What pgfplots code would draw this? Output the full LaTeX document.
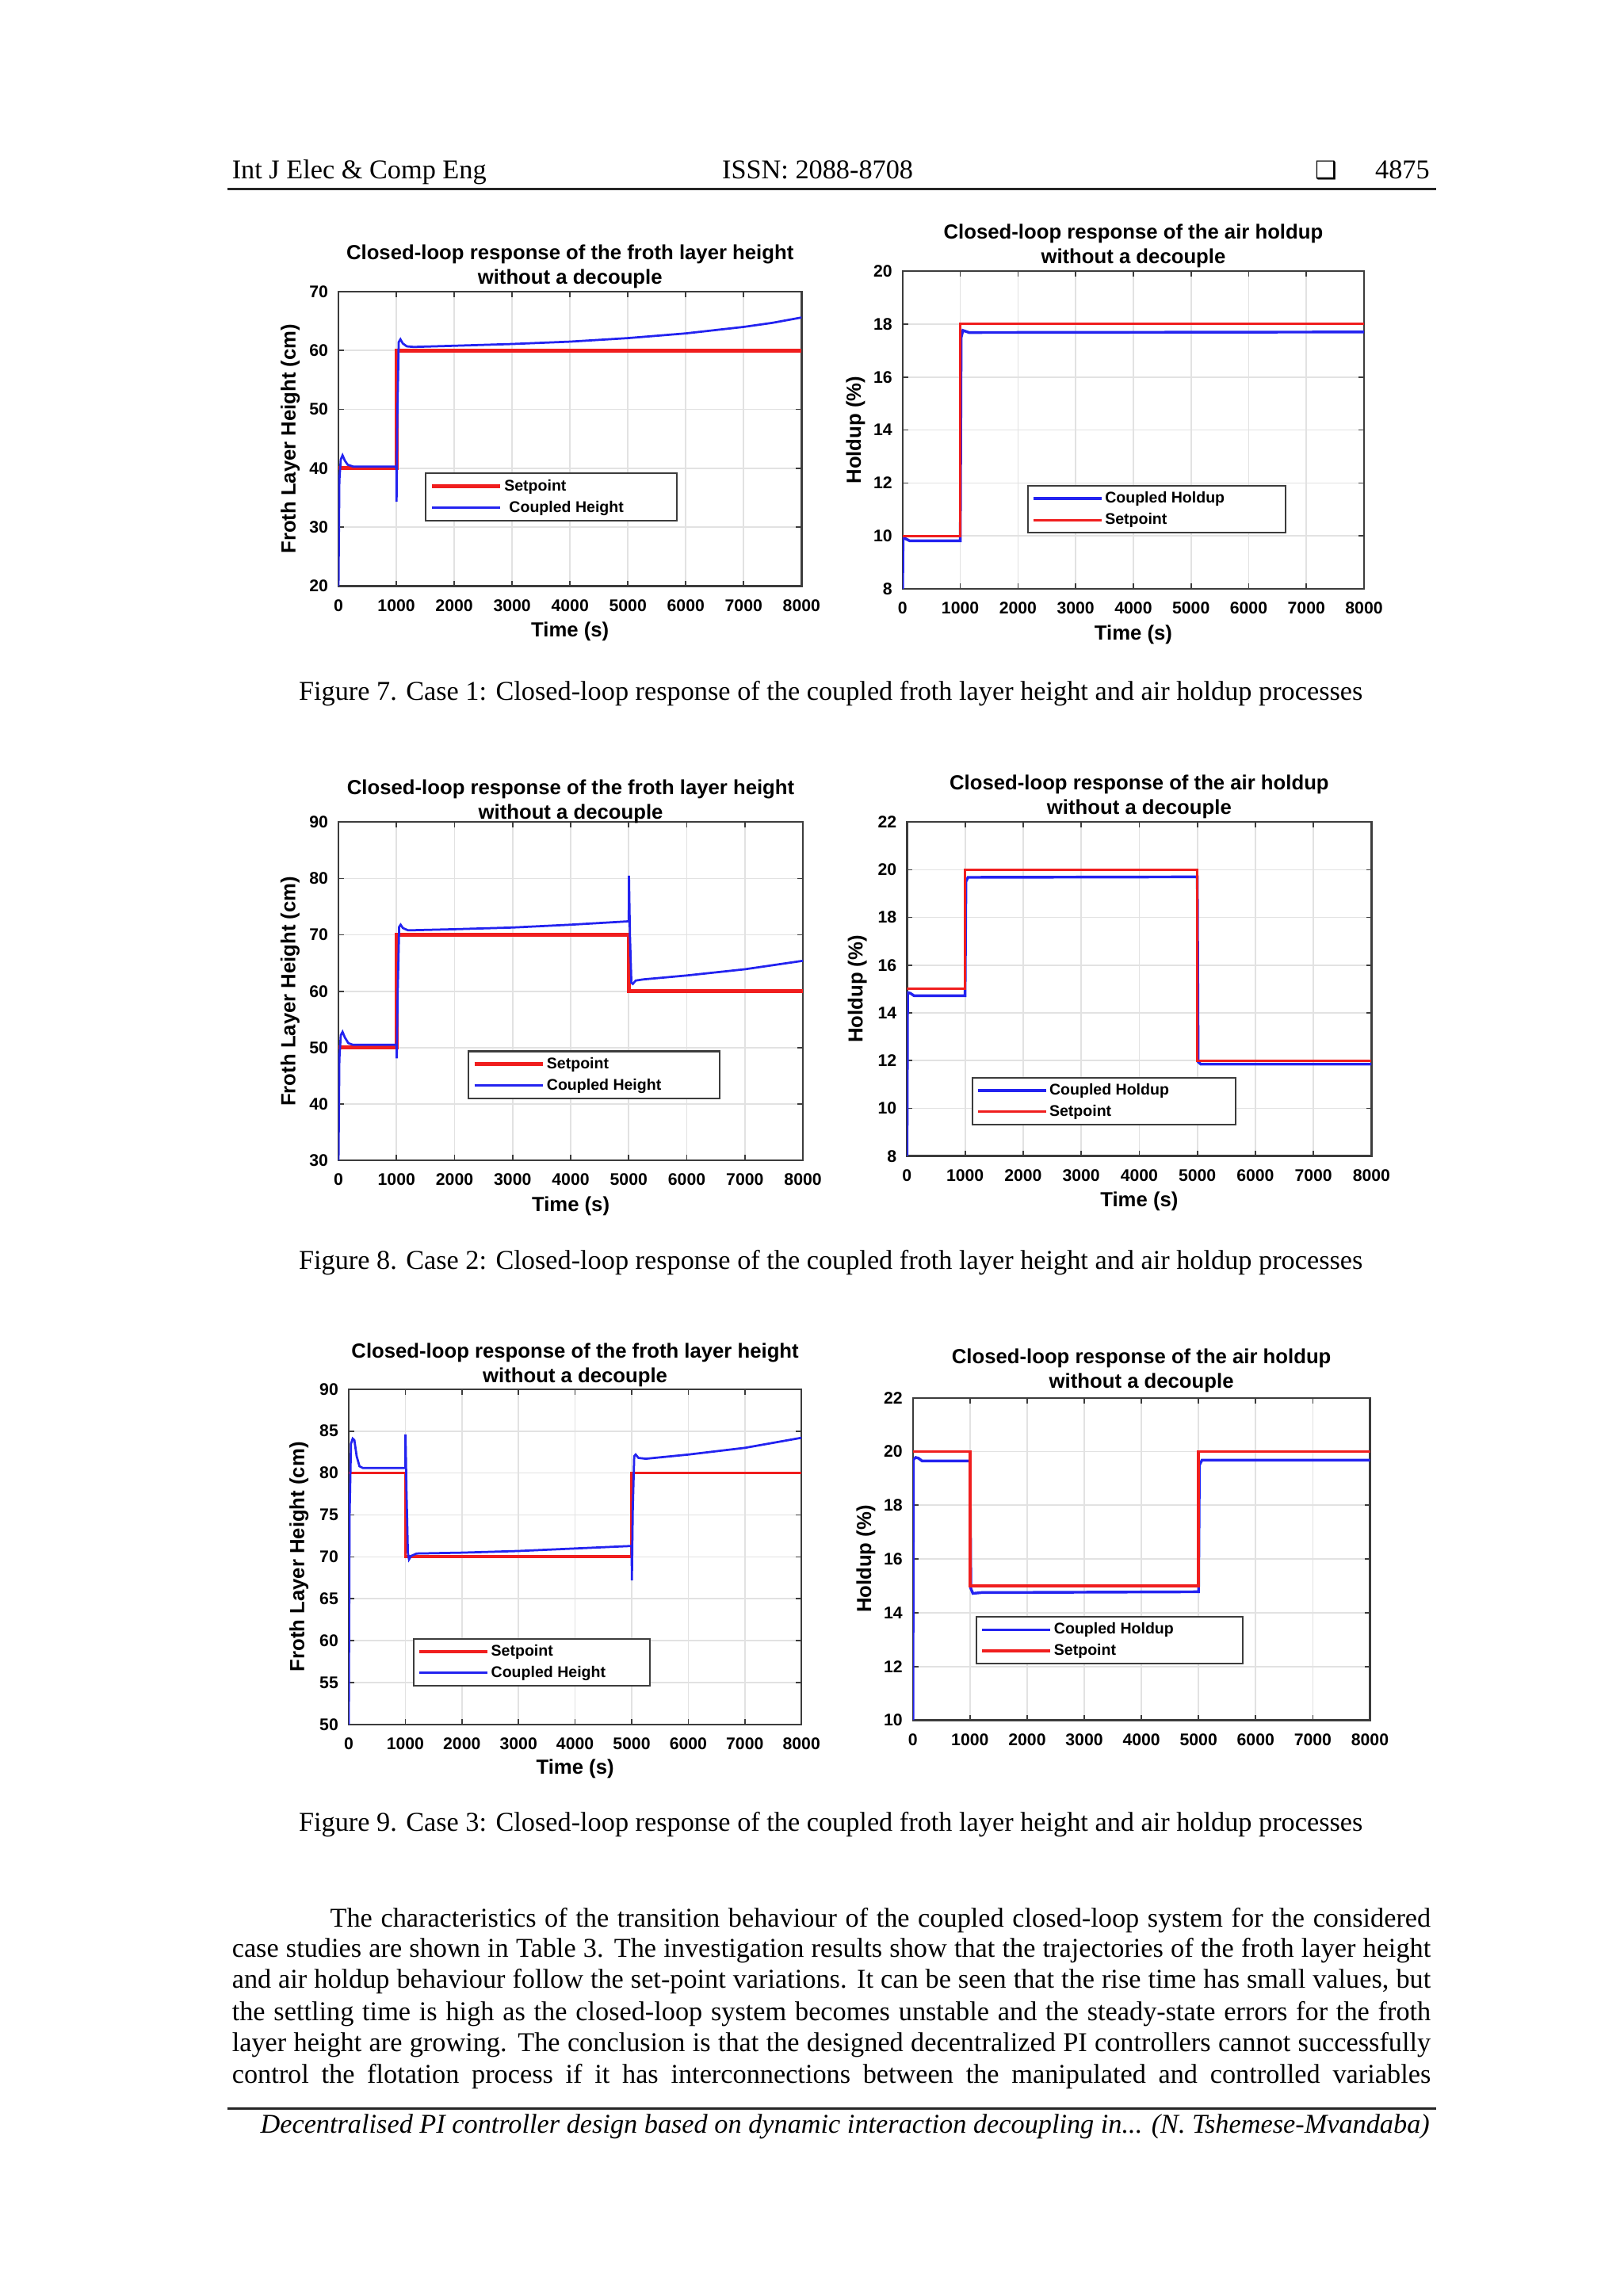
\documentclass[border=0pt]{standalone}
\usepackage{fontspec}
\setmainfont{Liberation Serif}
\newfontfamily\arial{Liberation Sans}
\newfontfamily\dejavu{DejaVu Sans}
\usepackage{pgfplots}
\pgfplotsset{compat=1.18}

\definecolor{spred}{RGB}{240,30,30}
\definecolor{cpblue}{RGB}{35,35,240}
\definecolor{gridgray}{RGB}{226,226,226}
\definecolor{boxgray}{RGB}{60,60,60}

\def\s{0.53726bp}

\pgfplotsset{
  mlab/.style={
    scale only axis,
    xmin=0, xmax=8000, xtick={0,1000,...,8000},
    grid=major, major grid style={gridgray, line width=0.5pt},
    axis line style={boxgray, line width=0.7pt},
    tick align=inside, major tick length=2bp, tick style={boxgray, line width=0.5pt},
    /pgf/number format/assume math mode=true,
    /pgf/number format/1000 sep={},
    scaled x ticks=false,
    ticklabel style={font=\arial\bfseries\fontsize{6.2}{7}\selectfont},
    xticklabel style={anchor=center, yshift=-7.1bp},
    yticklabel style={anchor=east, xshift=-0.3bp},
    label style={font=\arial\bfseries\fontsize{7.5}{9}\selectfont},
    xlabel style={anchor=center},
    ylabel style={anchor=center},
    title style={font=\arial\bfseries\fontsize{7.5}{9}\selectfont, align=center, anchor=center},
    legend style={font=\arial\bfseries\fontsize{5.7}{6.5}\selectfont,
      draw=boxgray, line width=0.6pt, fill=white, anchor=north west,
      inner xsep=1.5bp, inner ysep=0.8bp, row sep=0pt,
      nodes={inner sep=0.75bp, text height=4.8bp, text depth=1.5bp}},
    legend cell align=left,
    legend image code/.code={\draw[##1] (0bp,0bp) -- (25bp,0bp);},
  },
}

\begin{document}
\begin{tikzpicture}
\fill[white] (0,0) rectangle (595.28bp,-841.89bp);
\path[use as bounding box] (0,0) rectangle (595.28bp,-841.89bp);

% ---------- Figure 7 ----------
\begin{axis}[mlab, at={(231*\s,-400*\s)}, anchor=south west,
  width=169.8bp, height=108.0bp, ymin=20, ymax=70, ytick={20,30,...,70},
  title={Closed-loop response of the froth layer height\\without a decouple},
  title style={at={(axis description cs:0.5,1.030)}},
  xlabel={Time (s)}, xlabel style={at={(axis description cs:0.5,-0.154)}},
  ylabel={Froth Layer Height (cm)}, ylabel style={at={(axis description cs:-0.104,0.5)}},
  legend style={at={(0.187,0.385)}}]
\addplot[spred, line width=1.5bp] coordinates {(0,40) (1000,40) (1000,60) (8000,60)};
\addlegendentry{\makebox[61bp][l]{Setpoint}}
\addplot[cpblue, line width=0.8bp] coordinates {(0,20) (15,38) (40,41.5) (70,42.2) (110,41.3) (160,40.6) (250,40.3) (1000,40.3) (1003,34.3) (1015,48) (1040,61.4) (1070,61.9) (1110,61.2) (1180,60.7) (1300,60.6) (2000,60.8) (3000,61.1) (4000,61.5) (5000,62.1) (6000,62.9) (7000,64.0) (7500,64.7) (8000,65.6)};
\addlegendentry{\makebox[61bp][l]{\hspace{1.8bp}Coupled Height}}
\end{axis}

\begin{axis}[mlab, at={(616*\s,-402*\s)}, anchor=south west,
  width=169.2bp, height=116.6bp, ymin=8, ymax=20, ytick={8,10,...,20},
  title={Closed-loop response of the air holdup\\without a decouple},
  title style={at={(axis description cs:0.5,1.027)}},
  xlabel={Time (s)}, xlabel style={at={(axis description cs:0.5,-0.143)}},
  ylabel={Holdup (\%)}, ylabel style={at={(axis description cs:-0.102,0.5)}},
  legend style={at={(0.270,0.327)}}]
\addplot[cpblue, line width=1bp] coordinates {(0,8) (8,9.92) (50,9.9) (120,9.82) (1000,9.82) (1015,17.5) (1045,17.76) (1150,17.68) (8000,17.7)};
\addlegendentry{\makebox[64bp][l]{Coupled Holdup}}
\addplot[spred, line width=0.9bp] coordinates {(0,10) (1000,10) (1000,18) (8000,18)};
\addlegendentry{\makebox[64bp][l]{Setpoint}}
\end{axis}

% ---------- Figure 8 ----------
\begin{axis}[mlab, at={(231*\s,-792*\s)}, anchor=south west,
  width=170.3bp, height=124.1bp, ymin=30, ymax=90, ytick={30,40,...,90},
  title={Closed-loop response of the froth layer height\\without a decouple},
  title style={at={(axis description cs:0.5,1.013)}},
  xlabel={Time (s)}, xlabel style={at={(axis description cs:0.5,-0.134)}},
  ylabel={Froth Layer Height (cm)}, ylabel style={at={(axis description cs:-0.104,0.5)}},
  legend style={at={(0.278,0.325)}}]
\addplot[spred, line width=1.5bp] coordinates {(0,50) (1000,50) (1000,70) (5000,70) (5000,60) (8000,60)};
\addlegendentry{\makebox[61bp][l]{Setpoint}}
\addplot[cpblue, line width=0.8bp] coordinates {(0,30) (15,48) (40,52.2) (70,52.8) (110,51.8) (170,50.8) (250,50.5) (1000,50.5) (1003,48.1) (1020,60) (1045,71.4) (1070,71.8) (1110,71.2) (1200,70.8) (2000,71.0) (3000,71.3) (4000,71.8) (5000,72.4) (5003,80.5) (5020,70) (5045,61.5) (5070,61.3) (5120,61.9) (5250,62.1) (6000,62.8) (7000,63.9) (8000,65.4)};
\addlegendentry{\makebox[61bp][l]{Coupled Height}}
\end{axis}

\begin{axis}[mlab, at={(619*\s,-789*\s)}, anchor=south west,
  width=170.3bp, height=122.5bp, ymin=8, ymax=22, ytick={8,10,...,22},
  title={Closed-loop response of the air holdup\\without a decouple},
  title style={at={(axis description cs:0.5,1.027)}},
  xlabel={Time (s)}, xlabel style={at={(axis description cs:0.5,-0.136)}},
  ylabel={Holdup (\%)}, ylabel style={at={(axis description cs:-0.107,0.5)}},
  legend style={at={(0.139,0.237)}}]
\addplot[cpblue, line width=1bp] coordinates {(0,8) (10,14.85) (60,14.82) (120,14.72) (1000,14.72) (1015,19.5) (1050,19.68) (5000,19.7) (5015,11.95) (5060,11.85) (8000,11.85)};
\addlegendentry{\makebox[66bp][l]{Coupled Holdup}}
\addplot[spred, line width=0.9bp] coordinates {(0,15) (1000,15) (1000,20) (5000,20) (5000,12) (8000,12)};
\addlegendentry{\makebox[66bp][l]{Setpoint}}
\end{axis}

% ---------- Figure 9 ----------
\begin{axis}[mlab, at={(238*\s,-1177*\s)}, anchor=south west,
  width=166.0bp, height=123.0bp, ymin=50, ymax=90, ytick={50,55,...,90},
  title={Closed-loop response of the froth layer height\\without a decouple},
  title style={at={(axis description cs:0.5,1.024)}},
  xlabel={Time (s)}, xlabel style={at={(axis description cs:0.5,-0.131)}},
  ylabel={Froth Layer Height (cm)}, ylabel style={at={(axis description cs:-0.110,0.5)}},
  legend style={at={(0.142,0.258)}}]
\addplot[spred, line width=1.1bp] coordinates {(0,80) (1000,80) (1000,70) (5000,70) (5000,80) (8000,80)};
\addlegendentry{\makebox[56bp][l]{Setpoint}}
\addplot[cpblue, line width=0.8bp] coordinates {(0,50) (15,75) (40,83.5) (70,84.1) (100,83.9) (140,82) (190,80.8) (250,80.6) (1000,80.6) (1003,84.6) (1020,78) (1045,70.5) (1065,69.7) (1100,70.1) (1200,70.4) (2000,70.5) (3000,70.7) (4000,71.0) (5000,71.3) (5003,67.2) (5020,76) (5045,82.0) (5070,82.2) (5120,81.8) (5250,81.7) (6000,82.2) (7000,83.0) (8000,84.2)};
\addlegendentry{\makebox[56bp][l]{Coupled Height}}
\end{axis}

\begin{axis}[mlab, at={(623*\s,-1174*\s)}, anchor=south west,
  width=167.6bp, height=118.2bp, ymin=10, ymax=22, ytick={10,12,...,22},
  title={Closed-loop response of the air holdup\\without a decouple},
  title style={at={(axis description cs:0.5,1.034)}},
  ylabel={Holdup (\%)}, ylabel style={at={(axis description cs:-0.103,0.5)}},
  legend style={at={(0.138,0.323)}}]
\addplot[cpblue, line width=1bp] coordinates {(0,10) (10,19.7) (50,19.78) (100,19.75) (160,19.65) (1000,19.65) (1015,14.9) (1050,14.72) (1200,14.75) (5000,14.78) (5015,19.5) (5060,19.68) (8000,19.68)};
\addlegendentry{\makebox[67bp][l]{Coupled Holdup}}
\addplot[spred, line width=1.1bp] coordinates {(0,20) (1000,20) (1000,15) (5000,15) (5000,20) (8000,20)};
\addlegendentry{\makebox[67bp][l]{Setpoint}}
\end{axis}

% ---------- page text ----------
\begin{scope}[x=\s, y=-\s, every node/.style={inner sep=0pt, font=\fontsize{10}{12}\selectfont}]
\node[anchor=base west] at (158,122) {Int J Elec \& Comp Eng};
\node[anchor=base] at (558,122) {ISSN: 2088-8708};
\node[anchor=base] at (905,122) {{\dejavu\fontsize{9}{10}\selectfont ❑}};
\node[anchor=base east] at (976,122) {4875};
\draw[line width=0.8bp, black!85] (155,129) -- (980,129);

\node[anchor=base] at (567,478) {Figure 7. Case 1: Closed-loop response of the coupled froth layer height and air holdup processes};
\node[anchor=base] at (567,866) {Figure 8. Case 2: Closed-loop response of the coupled froth layer height and air holdup processes};
\node[anchor=base] at (567,1250) {Figure 9. Case 3: Closed-loop response of the coupled froth layer height and air holdup processes};

\node[anchor=base west] at (225,1315) {\makebox[403.5bp][s]{The characteristics of the transition behaviour of the coupled closed-loop system for the considered}};
\node[anchor=base west] at (158,1336) {\makebox[439.5bp][s]{case studies are shown in Table 3. The investigation results show that the trajectories of the froth layer height}};
\node[anchor=base west] at (158,1357) {\makebox[439.5bp][s]{and air holdup behaviour follow the set-point variations. It can be seen that the rise time has small values, but}};
\node[anchor=base west] at (158,1379) {\makebox[439.5bp][s]{the settling time is high as the closed-loop system becomes unstable and the steady-state errors for the froth}};
\node[anchor=base west] at (158,1400) {\makebox[439.5bp][s]{layer height are growing. The conclusion is that the designed decentralized PI controllers cannot successfully}};
\node[anchor=base west] at (158,1422) {\makebox[439.5bp][s]{control the flotation process if it has interconnections between the manipulated and controlled variables}};

\draw[line width=0.8bp, black!85] (155,1439) -- (980,1439);
\node[anchor=base east] at (976,1456) {\itshape Decentralised PI controller design based on dynamic interaction decoupling in... (N. Tshemese-Mvandaba)};
\end{scope}
\end{tikzpicture}
\end{document}
